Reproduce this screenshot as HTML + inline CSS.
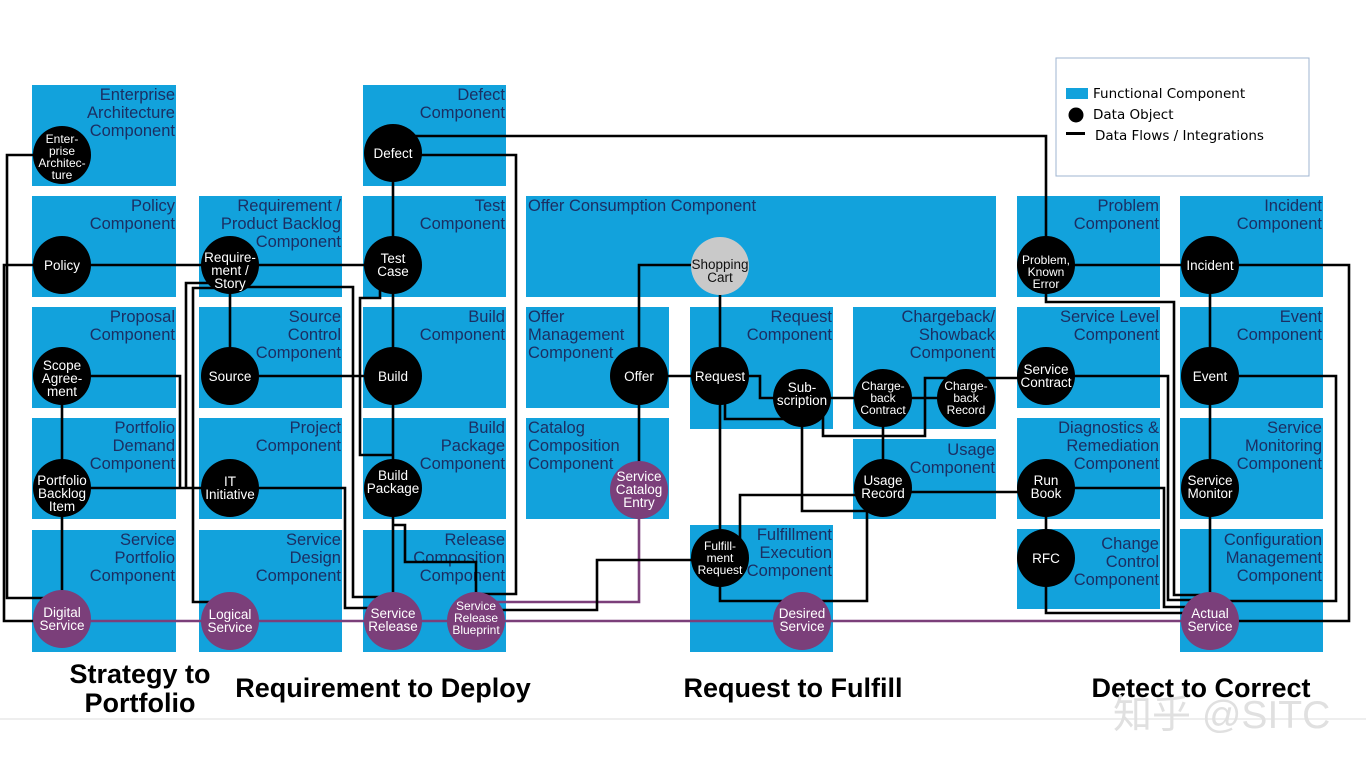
<!DOCTYPE html>
<html><head><meta charset="utf-8"><style>
html,body{margin:0;padding:0;background:#fff;width:1366px;height:768px;overflow:hidden}
svg{display:block}
.b{fill:#12a2dc}
.l{font-family:"Liberation Sans",sans-serif;font-size:16.5px;fill:#1b2f63;text-anchor:end}
.ll{font-family:"Liberation Sans",sans-serif;font-size:16.5px;fill:#1b2f63;text-anchor:start}
.n{font-family:"Liberation Sans",sans-serif;font-size:13.5px;fill:#fff;text-anchor:middle}
.s{font-size:12px}
.k{fill:none;stroke:#000;stroke-width:2.6}
.p{fill:none;stroke:#7b3f7a;stroke-width:2.6}
.t{font-family:"Liberation Sans",sans-serif;font-size:27px;font-weight:bold;fill:#000;text-anchor:middle}
</style></head><body>
<svg width="1366" height="768" viewBox="0 0 1366 768" xmlns="http://www.w3.org/2000/svg">
<g class="b">
<rect x="32" y="85" width="144" height="101"/><rect x="32" y="196" width="144" height="101"/><rect x="32" y="307" width="144" height="101"/><rect x="32" y="418" width="144" height="101"/><rect x="32" y="530" width="144" height="122"/>
<rect x="199" y="196" width="143" height="101"/><rect x="199" y="307" width="143" height="101"/><rect x="199" y="418" width="143" height="101"/><rect x="199" y="530" width="143" height="122"/>
<rect x="363" y="85" width="143" height="101"/><rect x="363" y="196" width="143" height="101"/><rect x="363" y="307" width="143" height="101"/><rect x="363" y="418" width="143" height="101"/><rect x="363" y="530" width="143" height="122"/>
<rect x="526" y="196" width="470" height="101"/>
<rect x="526" y="307" width="143" height="101"/><rect x="526" y="418" width="143" height="101"/>
<rect x="690" y="307" width="143" height="122"/><rect x="690" y="525" width="143" height="127"/>
<rect x="853" y="307" width="143" height="122"/><rect x="853" y="439" width="143" height="80"/>
<rect x="1017" y="196" width="143" height="101"/><rect x="1017" y="307" width="143" height="101"/><rect x="1017" y="418" width="143" height="101"/><rect x="1017" y="529" width="143" height="80"/>
<rect x="1180" y="196" width="143" height="101"/><rect x="1180" y="307" width="143" height="101"/><rect x="1180" y="418" width="143" height="101"/><rect x="1180" y="529" width="143" height="123"/>
</g>
<text class="l" x="175" y="100">Enterprise<tspan x="175" dy="18">Architecture</tspan><tspan x="175" dy="18">Component</tspan></text>
<text class="l" x="175" y="211">Policy<tspan x="175" dy="18">Component</tspan></text>
<text class="l" x="175" y="322">Proposal<tspan x="175" dy="18">Component</tspan></text>
<text class="l" x="175" y="433">Portfolio<tspan x="175" dy="18">Demand</tspan><tspan x="175" dy="18">Component</tspan></text>
<text class="l" x="175" y="545">Service<tspan x="175" dy="18">Portfolio</tspan><tspan x="175" dy="18">Component</tspan></text>
<text class="l" x="341" y="211">Requirement /<tspan x="341" dy="18">Product Backlog</tspan><tspan x="341" dy="18">Component</tspan></text>
<text class="l" x="341" y="322">Source<tspan x="341" dy="18">Control</tspan><tspan x="341" dy="18">Component</tspan></text>
<text class="l" x="341" y="433">Project<tspan x="341" dy="18">Component</tspan></text>
<text class="l" x="341" y="545">Service<tspan x="341" dy="18">Design</tspan><tspan x="341" dy="18">Component</tspan></text>
<text class="l" x="505" y="100">Defect<tspan x="505" dy="18">Component</tspan></text>
<text class="l" x="505" y="211">Test<tspan x="505" dy="18">Component</tspan></text>
<text class="l" x="505" y="322">Build<tspan x="505" dy="18">Component</tspan></text>
<text class="l" x="505" y="433">Build<tspan x="505" dy="18">Package</tspan><tspan x="505" dy="18">Component</tspan></text>
<text class="l" x="505" y="545">Release<tspan x="505" dy="18">Composition</tspan><tspan x="505" dy="18">Component</tspan></text>
<text class="ll" x="528" y="211">Offer Consumption Component</text>
<text class="ll" x="528" y="322">Offer<tspan x="528" dy="18">Management</tspan><tspan x="528" dy="18">Component</tspan></text>
<text class="ll" x="528" y="433">Catalog<tspan x="528" dy="18">Composition</tspan><tspan x="528" dy="18">Component</tspan></text>
<text class="l" x="832" y="322">Request<tspan x="832" dy="18">Component</tspan></text>
<text class="l" x="832" y="540">Fulfillment<tspan x="832" dy="18">Execution</tspan><tspan x="832" dy="18">Component</tspan></text>
<text class="l" x="995" y="322">Chargeback/<tspan x="995" dy="18">Showback</tspan><tspan x="995" dy="18">Component</tspan></text>
<text class="l" x="995" y="455">Usage<tspan x="995" dy="18">Component</tspan></text>
<text class="l" x="1159" y="211">Problem<tspan x="1159" dy="18">Component</tspan></text>
<text class="l" x="1159" y="322">Service Level<tspan x="1159" dy="18">Component</tspan></text>
<text class="l" x="1159" y="433">Diagnostics &amp;<tspan x="1159" dy="18">Remediation</tspan><tspan x="1159" dy="18">Component</tspan></text>
<text class="l" x="1159" y="549">Change<tspan x="1159" dy="18">Control</tspan><tspan x="1159" dy="18">Component</tspan></text>
<text class="l" x="1322" y="211">Incident<tspan x="1322" dy="18">Component</tspan></text>
<text class="l" x="1322" y="322">Event<tspan x="1322" dy="18">Component</tspan></text>
<text class="l" x="1322" y="433">Service<tspan x="1322" dy="18">Monitoring</tspan><tspan x="1322" dy="18">Component</tspan></text>
<text class="l" x="1322" y="545">Configuration<tspan x="1322" dy="18">Management</tspan><tspan x="1322" dy="18">Component</tspan></text>

<path class="p" d="M62 621 H1210"/>
<path class="p" d="M639 505 V602 H476"/>
<g class="k">
<path d="M62 155 H7 V598 H62"/>
<path d="M62 265 H4 V621 H40"/>
<path d="M62 265 H393"/>
<path d="M62 376 V621"/>
<path d="M62 376 H180 V488"/>
<path d="M62 488 H230"/>
<path d="M230 265 V376"/>
<path d="M210 283 H186 V488"/>
<path d="M215 288 H193 V602 H215"/>
<path d="M245 287 H353 V597 H393"/>
<path d="M230 376 H393"/>
<path d="M230 488 H345 V608 H393"/>
<path d="M393 153 V621"/>
<path d="M380 282 V298 H360 V455 H393"/>
<path d="M393 136 H1046 V265"/>
<path d="M393 155 H516 V594 H476"/>
<path d="M393 525 H405 V562 H476 V621"/>
<path d="M476 610 H597 V560 H720"/>
<path d="M639 376 V265 H720 V558"/>
<path d="M639 376 V490"/>
<path d="M639 376 H720"/>
<path d="M720 376 H760 V398 H802"/>
<path d="M725 400 V419 H802"/>
<path d="M802 398 H966"/>
<path d="M823 415 V436 H925 V378 H1046"/>
<path d="M802 398 V511 H883"/>
<path d="M883 398 V488"/>
<path d="M883 495 H740 V558"/>
<path d="M883 492 H1046"/>
<path d="M867 490 V601 H802"/>
<path d="M720 558 V601 H802"/>
<path d="M1046 265 H1210"/>
<path d="M1210 265 V621"/>
<path d="M1210 265 H1349 V621 H1210"/>
<path d="M1210 376 H1336 V601 H1210"/>
<path d="M1046 265 V302 H1174 V595 H1210"/>
<path d="M1046 376 H1168 V600 H1210"/>
<path d="M1046 488 H1164 V607 H1210"/>
<path d="M1046 488 V613 H1210"/>
</g>
<g fill="#000">
<circle cx="62" cy="155" r="29"/><circle cx="62" cy="265" r="29"/><circle cx="62" cy="376" r="29"/><circle cx="62" cy="488" r="29"/>
<circle cx="230" cy="265" r="29"/><circle cx="230" cy="376" r="29"/><circle cx="230" cy="488" r="29"/>
<circle cx="393" cy="153" r="29"/><circle cx="393" cy="265" r="29"/><circle cx="393" cy="376" r="29"/><circle cx="393" cy="488" r="29"/>
<circle cx="639" cy="376" r="29"/><circle cx="720" cy="376" r="29"/><circle cx="802" cy="398" r="29"/><circle cx="883" cy="398" r="29"/><circle cx="966" cy="398" r="29"/><circle cx="883" cy="488" r="29"/><circle cx="720" cy="558" r="29"/>
<circle cx="1046" cy="265" r="29"/><circle cx="1046" cy="376" r="29"/><circle cx="1046" cy="488" r="29"/><circle cx="1046" cy="558" r="29"/>
<circle cx="1210" cy="265" r="29"/><circle cx="1210" cy="376" r="29"/><circle cx="1210" cy="488" r="29"/>
</g>
<g fill="#7b3f7a">
<circle cx="62" cy="619" r="29"/><circle cx="230" cy="621" r="29"/><circle cx="393" cy="621" r="29"/><circle cx="476" cy="621" r="29"/><circle cx="639" cy="490" r="29"/><circle cx="802" cy="621" r="29"/><circle cx="1210" cy="621" r="29"/>
</g>
<circle cx="720" cy="266" r="29" fill="#c9c9c9"/>
<text class="n s" x="62" y="143">Enter-<tspan x="62" dy="12">prise</tspan><tspan x="62" dy="12">Architec-</tspan><tspan x="62" dy="12">ture</tspan></text>
<text class="n" x="62" y="270">Policy</text>
<text class="n" x="62" y="370">Scope<tspan x="62" dy="13">Agree-</tspan><tspan x="62" dy="13">ment</tspan></text>
<text class="n" x="62" y="485">Portfolio<tspan x="62" dy="13">Backlog</tspan><tspan x="62" dy="13">Item</tspan></text>
<text class="n" x="62" y="617">Digital<tspan x="62" dy="13">Service</tspan></text>
<text class="n" x="230" y="262">Require-<tspan x="230" dy="13">ment /</tspan><tspan x="230" dy="13">Story</tspan></text>
<text class="n" x="230" y="381">Source</text>
<text class="n" x="230" y="486">IT<tspan x="230" dy="13">Initiative</tspan></text>
<text class="n" x="230" y="619">Logical<tspan x="230" dy="13">Service</tspan></text>
<text class="n" x="393" y="158">Defect</text>
<text class="n" x="393" y="263">Test<tspan x="393" dy="13">Case</tspan></text>
<text class="n" x="393" y="381">Build</text>
<text class="n" x="393" y="480">Build<tspan x="393" dy="13">Package</tspan></text>
<text class="n" x="393" y="618">Service<tspan x="393" dy="13">Release</tspan></text>
<text class="n s" x="476" y="610">Service<tspan x="476" dy="12">Release</tspan><tspan x="476" dy="12">Blueprint</tspan></text>
<text class="n" x="720" y="269" style="fill:#111">Shopping<tspan x="720" dy="13">Cart</tspan></text>
<text class="n" x="639" y="381">Offer</text>
<text class="n" x="639" y="481">Service<tspan x="639" dy="13">Catalog</tspan><tspan x="639" dy="13">Entry</tspan></text>
<text class="n" x="720" y="381">Request</text>
<text class="n" x="802" y="392">Sub-<tspan x="802" dy="13">scription</tspan></text>
<text class="n s" x="883" y="390">Charge-<tspan x="883" dy="12">back</tspan><tspan x="883" dy="12">Contract</tspan></text>
<text class="n s" x="966" y="390">Charge-<tspan x="966" dy="12">back</tspan><tspan x="966" dy="12">Record</tspan></text>
<text class="n" x="883" y="485">Usage<tspan x="883" dy="13">Record</tspan></text>
<text class="n s" x="720" y="550">Fulfill-<tspan x="720" dy="12">ment</tspan><tspan x="720" dy="12">Request</tspan></text>
<text class="n" x="802" y="618">Desired<tspan x="802" dy="13">Service</tspan></text>
<text class="n s" x="1046" y="264">Problem,<tspan x="1046" dy="12">Known</tspan><tspan x="1046" dy="12">Error</tspan></text>
<text class="n" x="1046" y="374">Service<tspan x="1046" dy="13">Contract</tspan></text>
<text class="n" x="1046" y="485">Run<tspan x="1046" dy="13">Book</tspan></text>
<text class="n" x="1046" y="563">RFC</text>
<text class="n" x="1210" y="270">Incident</text>
<text class="n" x="1210" y="381">Event</text>
<text class="n" x="1210" y="485">Service<tspan x="1210" dy="13">Monitor</tspan></text>
<text class="n" x="1210" y="618">Actual<tspan x="1210" dy="13">Service</tspan></text>
<rect x="1056" y="58" width="253" height="118" fill="#fff" stroke="#9fb4d0" stroke-width="1"/>
<rect x="1066" y="88" width="22" height="11" fill="#12a2dc"/>
<circle cx="1076" cy="115" r="7.5" fill="#000"/>
<rect x="1066" y="132" width="19" height="3" fill="#000"/>
<text x="1093" y="98" font-family="DejaVu Sans, sans-serif" font-size="13.5" fill="#000">Functional Component</text>
<text x="1093" y="119" font-family="DejaVu Sans, sans-serif" font-size="13.5" fill="#000">Data Object</text>
<text x="1095" y="140" font-family="DejaVu Sans, sans-serif" font-size="13.5" fill="#000">Data Flows / Integrations</text>
<text class="t" x="140" y="683">Strategy to</text>
<text class="t" x="140" y="712">Portfolio</text>
<text class="t" x="383" y="697">Requirement to Deploy</text>
<text class="t" x="793" y="697">Request to Fulfill</text>
<text class="t" x="1201" y="697">Detect to Correct</text>
<rect x="0" y="718" width="1366" height="2" fill="#eeeeee"/>
<text x="1113" y="728" font-family="'Liberation Sans','Noto Sans CJK SC',sans-serif" font-size="39" fill="#e0e0e0">知乎 @SITC</text>
</svg>
</body></html>
